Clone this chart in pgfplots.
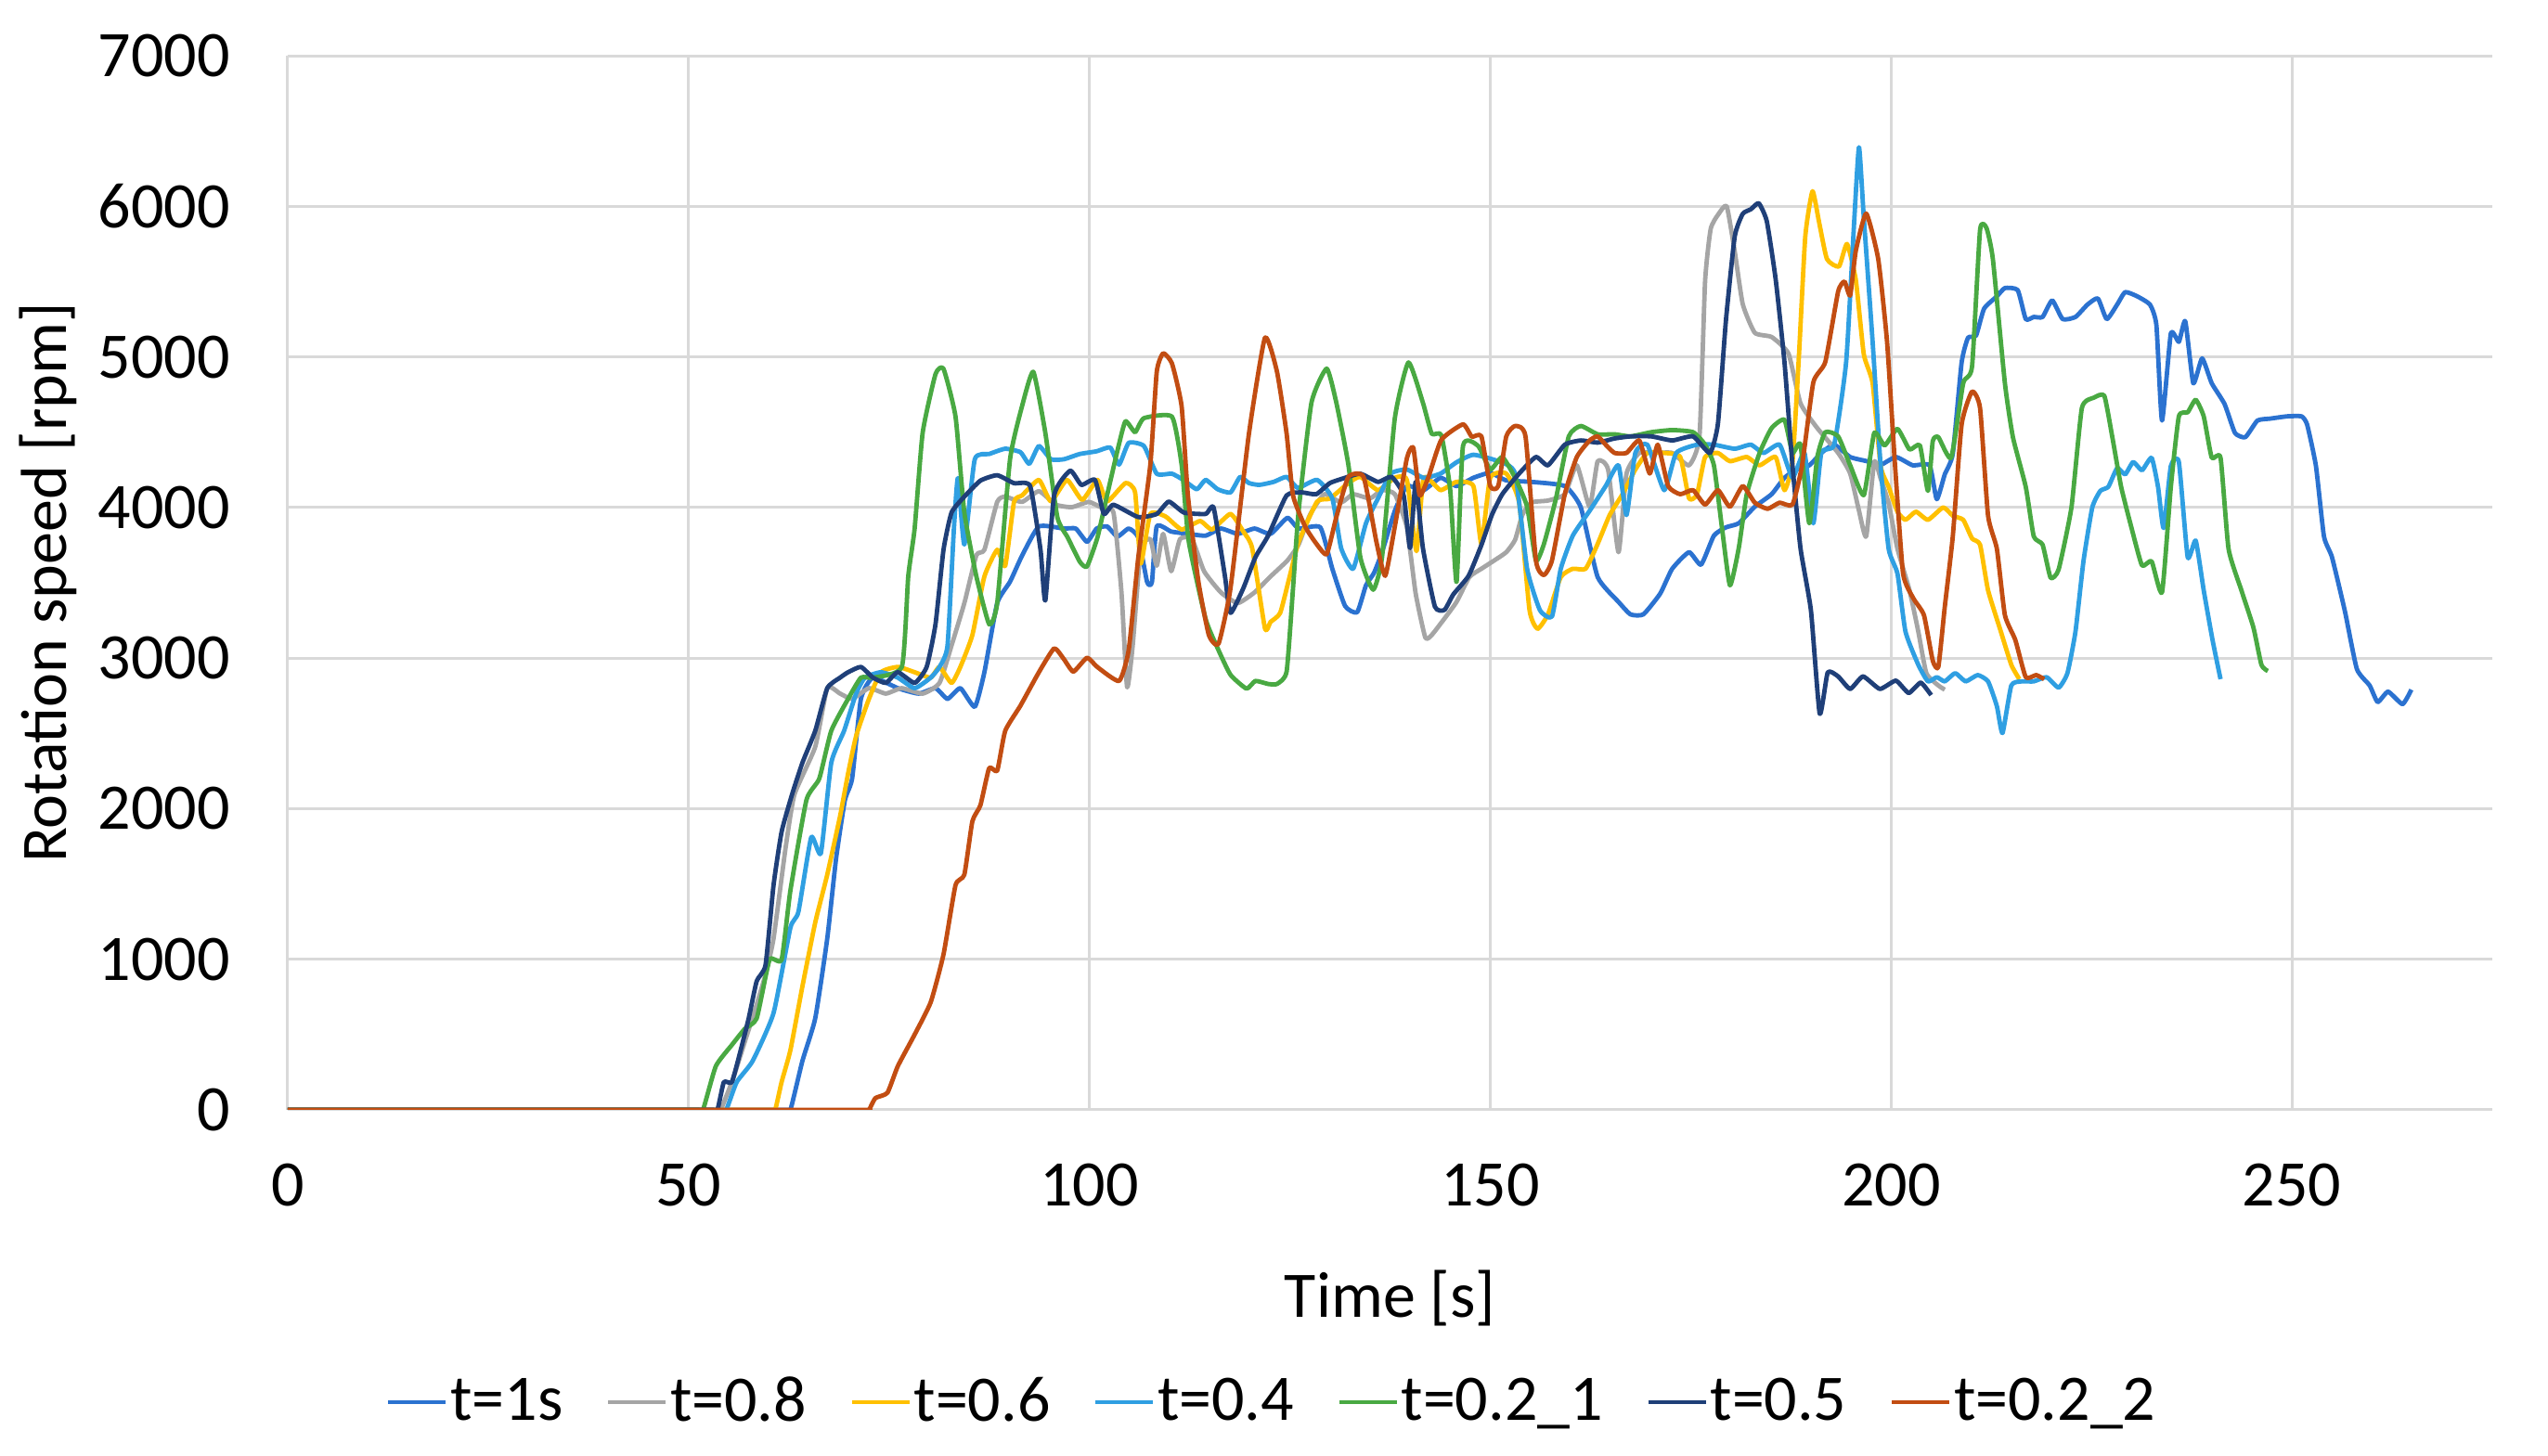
\documentclass[border=0pt]{standalone}
\usepackage{fontspec}
\setmainfont{Carlito}
\usepackage{pgfplots}
\pgfplotsset{compat=1.18}
\definecolor{cA}{HTML}{2B72D0}
\definecolor{cB}{HTML}{A5A5A5}
\definecolor{cC}{HTML}{FFC000}
\definecolor{cD}{HTML}{2F9FE2}
\definecolor{cE}{HTML}{49A942}
\definecolor{cF}{HTML}{1F3F78}
\definecolor{cG}{HTML}{C24D12}
\definecolor{gridgray}{HTML}{D9D9D9}
\newcommand{\chartfont}{\fontsize{17.5pt}{21pt}\selectfont}
\begin{document}
\begin{tikzpicture}
\useasboundingbox (-77.5pt,-93.25pt) rectangle (608.75pt,299pt);
\begin{axis}[
  at={(0pt,0pt)}, anchor=south west,
  scale only axis, width=593.75pt, height=284pt,
  xmin=0, xmax=275, ymin=0, ymax=7000,
  xtick={0,50,...,250}, ytick={0,1000,...,7000},
  axis line style={draw=none},
  tick style={draw=none},
  xmajorgrids, ymajorgrids,
  grid style={color=gridgray, line width=0.75pt},
  /pgf/number format/assume math mode=true,
  /pgf/number format/1000 sep={},
  tick label style={font=\chartfont},
  yticklabel style={xshift=-12pt},
  xticklabel style={yshift=-11pt},
  label style={font=\chartfont},
  xlabel={Time [s]},
  ylabel={Rotation speed [rpm]},
  xlabel style={at={(axis description cs:0.5,-0.1787)}, anchor=center},
  ylabel style={at={(axis description cs:-0.1086,0.5)}, anchor=center},
  legend columns=7,
  legend style={at={(axis description cs:0.4465,-0.2773)}, anchor=center,
    draw=none, fill=none, font=\chartfont, inner xsep=0pt,
    nodes={inner xsep=0.6pt},
    /tikz/every even column/.append style={column sep=11pt}},
  legend image code/.code={\draw[#1] (0pt,0pt) -- (15.5pt,0pt);},
  every axis plot/.append style={line width=1.2pt, line join=round, smooth, tension=0.3},
]
\addplot[cA] coordinates {(0,0) (30,0) (61.0,0) (61.9,0) (62.7,0) (64.2,325) (65.8,608) (67.3,1138) (68.4,1669) (69.5,2057) (70.4,2199) (71.5,2729) (73.0,2870) (76.1,2800) (78.7,2764) (80.8,2800) (82.3,2729) (83.9,2800) (85.7,2676) (86.9,2906) (88.5,3365) (90.1,3507) (91.6,3680) (93.7,3874) (96.8,3860) (98.3,3860) (99.7,3772) (100.9,3860) (102.2,3874) (103.5,3807) (104.9,3860) (106.1,3800) (107.2,3505) (107.8,3505) (108.4,3874) (110.2,3840) (112.3,3825) (114.5,3813) (116.4,3860) (118.5,3825) (120.6,3860) (122.6,3825) (124.7,3931) (126.1,3860) (128.8,3868) (130.3,3593) (131.9,3345) (133.4,3304) (134.5,3483) (135.5,3565) (136.5,3703) (138.1,3978) (139.6,4142) (141.7,4115) (143.8,4197) (145.8,4142) (147.9,4197) (150.0,4230) (152.0,4180) (155.1,4170) (159.3,4142) (161.3,4000) (163.4,3538) (166.0,3373) (167.5,3290) (169.1,3290) (171.2,3428) (172.7,3593) (174.8,3703) (176.3,3620) (177.9,3813) (179.4,3868) (181.0,3895) (183.0,4005) (185.1,4088) (186.7,4197) (188.2,4252) (189.8,4280) (191.3,4362) (192.9,4417) (194.9,4335) (197.0,4307) (198.6,4280) (200.6,4335) (202.7,4280) (204.8,4280) (205.7,4055) (206.7,4220) (207.7,4357) (208.8,4962) (209.6,5127) (210.6,5141) (211.6,5320) (213.2,5402) (214.2,5457) (215.8,5443) (216.8,5251) (217.8,5265) (218.9,5265) (220.1,5375) (221.4,5251) (223.0,5265) (224.5,5347) (225.8,5388) (226.9,5251) (228.2,5347) (229.2,5430) (230.7,5402) (232.3,5347) (233.1,5210) (233.8,4577) (234.9,5155) (235.9,5100) (236.7,5237) (237.7,4825) (238.8,4990) (240.0,4825) (241.6,4687) (242.9,4495) (244.2,4467) (245.7,4577) (247.3,4590) (249.4,4605) (251.2,4605) (251.9,4550) (253.0,4275) (254.0,3808) (255.0,3670) (256.6,3314) (258.1,2928) (259.7,2818) (260.7,2708) (262.0,2777) (263.8,2694) (264.9,2790)};
\addlegendentry{t=1s}
\addplot[cB] coordinates {(0,0) (30,0) (52.4,0) (53.3,0) (54.0,0) (55.5,200) (57.0,450) (58.5,700) (59.6,900) (60.6,1138) (62.1,1739) (63.2,2093) (65.8,2411) (67.3,2800) (68.9,2764) (70.4,2729) (72.5,2800) (74.6,2764) (76.6,2800) (79.2,2764) (81.3,2835) (82.8,3083) (84.4,3365) (85.9,3683) (86.9,3719) (88.5,4037) (89.5,4072) (91.6,4037) (93.7,4108) (95.8,4019) (97.8,4002) (99.9,4037) (101.4,4002) (103.0,3966) (104.0,3436) (104.7,2807) (105.4,3083) (106.4,3719) (107.6,3790) (108.4,3613) (109.2,3825) (110.2,3577) (111.3,3790) (112.8,3790) (114.3,3577) (116.4,3436) (118.5,3365) (120.6,3436) (122.6,3542) (124.7,3648) (126.1,3754) (127.5,3950) (129.3,4088) (131.4,4033) (132.9,4088) (135.0,4060) (136.5,4115) (138.1,4088) (139.6,3868) (140.7,3428) (141.9,3136) (142.7,3153) (144.3,3263) (145.8,3373) (147.4,3538) (148.9,3593) (150.5,3648) (152.0,3703) (153.1,3785) (154.0,3950) (155.1,4033) (157.2,4046) (159.3,4088) (160.8,4280) (162.4,4005) (163.4,4307) (164.7,4252) (166.0,3703) (167.0,4225) (168.6,4362) (170.6,4362) (172.7,4362) (174.8,4280) (176.1,4472) (176.8,5500) (177.5,5850) (178.5,5950) (179.5,6000) (180.5,5700) (181.5,5350) (183.0,5160) (185.1,5132) (187.2,5022) (188.7,4692) (190.8,4527) (193.4,4362) (194.9,4225) (196.0,3978) (196.9,3808) (197.9,4302) (198.7,4192) (199.7,4027) (200.8,3725) (202.3,3450) (203.4,3175) (204.4,2900) (205.9,2818) (206.7,2790)};
\addlegendentry{t=0.8}
\addplot[cC] coordinates {(0,0) (30,0) (59.2,0) (60.1,0) (60.8,0) (61.6,184) (62.7,396) (64.2,820) (65.8,1244) (67.3,1562) (68.9,1951) (69.9,2234) (70.9,2482) (72.5,2729) (74.0,2906) (76.1,2941) (78.2,2906) (80.2,2870) (81.3,2941) (82.8,2835) (83.9,2941) (85.4,3153) (86.9,3542) (88.5,3719) (89.5,3613) (90.6,4037) (91.6,4080) (93.7,4183) (95.2,4040) (97.2,4183) (99.1,4050) (101.0,4183) (102.2,4040) (104.5,4162) (105.7,4100) (106.4,3628) (107.6,3957) (109.5,3940) (111.5,3854) (113.8,3910) (115.3,3854) (117.6,3957) (119.2,3840) (120.3,3731) (121.9,3197) (122.6,3240) (123.8,3300) (125.0,3546) (126.1,3772) (128.4,4039) (130.0,4059) (132.3,4162) (133.8,4203) (136.0,4115) (138.1,4197) (139.6,4183) (140.8,3710) (141.7,4197) (143.8,4115) (145.8,4170) (147.9,4142) (148.9,3758) (150.0,4197) (152.0,4225) (153.6,4033) (154.9,3318) (155.9,3194) (157.2,3290) (158.8,3538) (160.3,3593) (161.9,3593) (163.4,3758) (164.9,3950) (166.5,4088) (168.1,4252) (169.6,4362) (171.7,4362) (173.7,4335) (174.8,4060) (175.8,4088) (176.8,4335) (178.4,4362) (179.9,4307) (182.0,4335) (183.6,4280) (185.6,4335) (186.7,4115) (187.7,4300) (188.5,5000) (189.3,5800) (190.2,6100) (191.0,5900) (192.0,5650) (193.5,5600) (194.5,5750) (195.6,5512) (196.6,5017) (197.7,4825) (198.7,4275) (199.7,4137) (200.8,3972) (201.8,3918) (203.1,3972) (204.6,3918) (206.5,4000) (207.7,3945) (209.0,3918) (210.1,3794) (211.1,3753) (212.1,3450) (213.7,3175) (215.0,2955) (216.0,2860)};
\addlegendentry{t=0.6}
\addplot[cD] coordinates {(0,0) (30,0) (53.1,0) (54.0,0) (54.7,0) (56.0,184) (58.0,325) (60.6,643) (62.7,1209) (63.7,1315) (65.3,1810) (66.5,1704) (67.8,2305) (69.4,2517) (70.9,2764) (72.0,2870) (74.0,2906) (76.1,2870) (78.2,2800) (80.2,2870) (81.3,2941) (82.3,3083) (83.1,3860) (83.6,4196) (84.4,3754) (85.7,4320) (87.5,4355) (89.5,4390) (91.4,4367) (92.5,4290) (93.7,4408) (95.2,4320) (96.8,4320) (98.8,4355) (100.9,4373) (102.6,4398) (103.7,4285) (104.9,4429) (106.8,4408) (108.4,4224) (110.3,4224) (111.8,4180) (113.4,4121) (114.5,4183) (116.0,4121) (117.6,4100) (118.8,4203) (119.9,4162) (121.2,4150) (123.0,4170) (124.6,4203) (126.0,4130) (128.4,4183) (130.3,4060) (131.4,3730) (132.9,3593) (134.5,3895) (136.0,4060) (137.6,4225) (139.6,4252) (141.7,4197) (143.8,4225) (145.8,4300) (147.9,4350) (151.0,4307) (153.1,4225) (154.6,3593) (156.2,3318) (157.7,3276) (158.8,3593) (160.3,3813) (162.4,3978) (164.4,4142) (166.0,4280) (167.0,3950) (168.1,4362) (169.6,4417) (171.7,4115) (173.2,4362) (175.8,4417) (177.9,4417) (180.5,4390) (182.5,4417) (184.1,4362) (186.1,4417) (187.7,4197) (189.2,4362) (190.3,3895) (191.3,4362) (192.9,4417) (194.4,4967) (195.4,5900) (196.0,6392) (196.6,5924) (197.7,5100) (198.7,4275) (199.7,3725) (200.8,3560) (201.8,3175) (203.4,2955) (204.6,2845) (205.7,2873) (206.7,2845) (208.0,2900) (209.3,2845) (210.8,2887) (212.1,2845) (213.2,2680) (213.9,2502) (215.0,2818) (216.3,2845) (217.8,2845) (219.4,2873) (220.9,2804) (222.0,2900) (223.0,3175) (224.0,3643) (225.1,4000) (226.1,4110) (227.1,4137) (228.2,4261) (229.2,4220) (230.2,4302) (231.3,4247) (232.5,4330) (233.3,4137) (234.0,3863) (234.9,4275) (235.9,4302) (237.0,3670) (238.0,3780) (239.0,3450) (240.1,3120) (241.1,2860)};
\addlegendentry{t=0.4}
\addplot[cE] coordinates {(0,0) (30,0) (50.2,0) (51.1,0) (51.8,0) (53.4,290) (55.4,431) (57.0,537) (58.5,608) (60.1,997) (61.6,997) (62.7,1456) (64.7,2057) (66.3,2199) (67.8,2517) (69.9,2729) (71.5,2870) (73.0,2870) (76.6,2941) (77.4,3542) (78.2,3860) (79.2,4496) (80.8,4885) (81.8,4921) (83.3,4603) (84.4,3966) (85.9,3542) (87.5,3224) (88.5,3365) (90.1,4320) (91.6,4673) (93.0,4901) (94.5,4496) (96.0,3936) (97.3,3800) (98.8,3640) (99.7,3608) (101.0,3800) (102.2,4080) (103.6,4400) (104.5,4573) (105.7,4500) (106.8,4593) (110.3,4603) (111.5,4285) (112.4,3772) (114.5,3259) (116.1,3053) (117.6,2889) (119.6,2797) (120.7,2848) (122.3,2828) (123.4,2828) (124.6,2910) (125.4,3464) (126.1,3977) (127.7,4696) (129.6,4922) (130.8,4696) (132.3,4285) (133.8,3669) (135.4,3454) (136.5,3669) (138.1,4593) (139.8,4963) (141.6,4696) (142.7,4490) (143.9,4480) (145.0,4121) (145.8,3505) (146.6,4408) (148.5,4408) (150.0,4252) (151.5,4335) (153.1,4197) (154.6,4005) (155.7,3648) (156.7,3758) (158.2,4060) (159.8,4472) (161.3,4541) (163.4,4486) (165.5,4486) (167.5,4472) (170.1,4500) (172.7,4514) (175.3,4500) (176.8,4417) (177.9,4280) (178.9,3868) (179.9,3483) (181.0,3730) (182.0,4088) (183.6,4362) (185.1,4527) (186.7,4582) (187.7,4362) (188.7,4417) (189.8,3895) (190.8,4335) (191.8,4500) (193.4,4472) (194.9,4280) (196.6,4082) (197.9,4495) (199.2,4412) (200.8,4522) (202.3,4385) (203.6,4412) (204.6,4110) (205.2,4440) (205.9,4467) (207.5,4330) (209.0,4825) (210.1,4935) (211.1,5842) (211.9,5856) (212.7,5649) (214.2,4825) (215.2,4467) (216.8,4137) (217.8,3808) (218.9,3753) (219.9,3533) (220.9,3588) (222.5,4000) (223.8,4660) (225.3,4729) (226.6,4742) (227.6,4467) (228.7,4137) (230.0,3863) (231.3,3615) (232.5,3643) (233.8,3436) (234.9,4137) (235.9,4605) (237.0,4632) (238.0,4715) (239.0,4605) (240.0,4330) (241.1,4330) (242.1,3725) (243.7,3450) (245.2,3203) (246.2,2955) (247.0,2914)};
\addlegendentry{t=0.2\_1}
\addplot[cF] coordinates {(0,0) (30,0) (52.0,0) (52.9,0) (53.6,0) (54.4,184) (55.4,184) (56.5,396) (57.5,608) (58.5,855) (59.6,962) (60.6,1492) (61.6,1845) (62.9,2093) (64.2,2305) (65.8,2517) (67.3,2800) (68.9,2870) (69.9,2906) (71.5,2941) (73.0,2870) (74.6,2835) (76.1,2906) (78.2,2835) (79.7,2941) (80.8,3224) (81.8,3719) (82.8,3966) (84.4,4072) (86.4,4178) (88.5,4214) (90.6,4161) (92.6,4143) (93.9,3719) (94.5,3382) (95.6,4080) (97.6,4244) (99.0,4150) (100.7,4183) (101.8,3957) (103.0,4018) (106.1,3936) (108.4,3957) (109.9,4039) (111.8,3966) (114.5,3957) (115.5,3998) (116.9,3546) (117.6,3300) (119.2,3464) (120.7,3669) (122.3,3813) (124.6,4080) (126.5,4100) (128.3,4088) (130.0,4162) (131.9,4197) (133.8,4224) (136.0,4170) (137.7,4203) (139.2,4080) (140.0,3731) (140.7,4170) (141.6,3731) (143.1,3341) (144.3,3320) (145.4,3423) (147.3,3546) (148.9,3751) (150.2,3950) (151.5,4088) (153.6,4225) (155.7,4335) (157.2,4280) (159.3,4417) (161.3,4445) (163.4,4431) (165.5,4458) (167.5,4472) (170.1,4472) (172.7,4445) (175.3,4472) (177.4,4362) (178.4,4555) (179.4,5242) (180.5,5800) (181.5,5950) (182.5,5980) (183.5,6020) (184.5,5900) (185.6,5517) (186.7,4967) (187.7,4280) (188.7,3730) (190.0,3318) (191.1,2630) (192.1,2905) (193.4,2878) (194.9,2795) (196.5,2878) (198.6,2795) (200.6,2850) (202.2,2768) (203.7,2837) (205.0,2754)};
\addlegendentry{t=0.5}
\addplot[cG] coordinates {(0,0) (30,0) (70.9,0) (71.8,0) (72.5,0) (73.3,78) (74.8,113) (76.1,290) (78.2,500) (80.2,714) (81.8,1032) (83.3,1492) (84.4,1562) (85.4,1916) (86.4,2022) (87.5,2270) (88.5,2252) (89.5,2517) (91.4,2684) (93.7,2906) (95.6,3064) (96.8,2994) (98.0,2910) (99.7,3002) (101.0,2940) (103.7,2848) (104.9,3053) (106.1,3669) (107.6,4285) (108.4,4901) (109.2,5024) (110.3,4956) (111.5,4673) (112.3,4072) (113.6,3507) (114.9,3153) (116.1,3094) (117.6,3464) (119.9,4490) (121.9,5127) (123.4,4901) (124.6,4490) (125.4,4080) (126.9,3874) (128.3,3760) (129.6,3690) (130.8,3936) (132.3,4203) (134.2,4203) (135.8,3772) (136.9,3546) (138.1,3874) (139.6,4326) (140.4,4398) (141.2,4080) (142.3,4203) (143.9,4449) (146.6,4552) (147.7,4470) (148.9,4472) (150.0,4142) (151.0,4142) (152.0,4472) (153.1,4541) (154.4,4472) (155.7,3648) (156.7,3551) (157.7,3648) (159.3,4088) (160.8,4335) (162.4,4445) (163.4,4472) (164.4,4417) (165.5,4362) (167.0,4362) (168.6,4445) (169.9,4225) (170.9,4417) (172.2,4142) (173.7,4088) (175.3,4115) (176.8,4019) (178.4,4115) (179.9,4005) (181.5,4142) (183.0,4032) (184.6,3991) (186.1,4032) (187.7,4019) (188.9,4280) (190.3,4830) (191.8,4967) (193.4,5434) (194.2,5500) (194.9,5407) (195.6,5704) (196.9,5952) (198.4,5649) (199.5,5100) (200.5,4275) (201.5,3560) (202.8,3395) (204.1,3285) (205.2,2983) (205.9,2942) (206.7,3340) (207.7,3808) (208.8,4550) (210.1,4770) (211.1,4660) (212.1,3945) (213.2,3725) (214.2,3285) (215.5,3120) (216.8,2873) (218.1,2887) (219.1,2860)};
\addlegendentry{t=0.2\_2}
\end{axis}
\end{tikzpicture}
\end{document}
